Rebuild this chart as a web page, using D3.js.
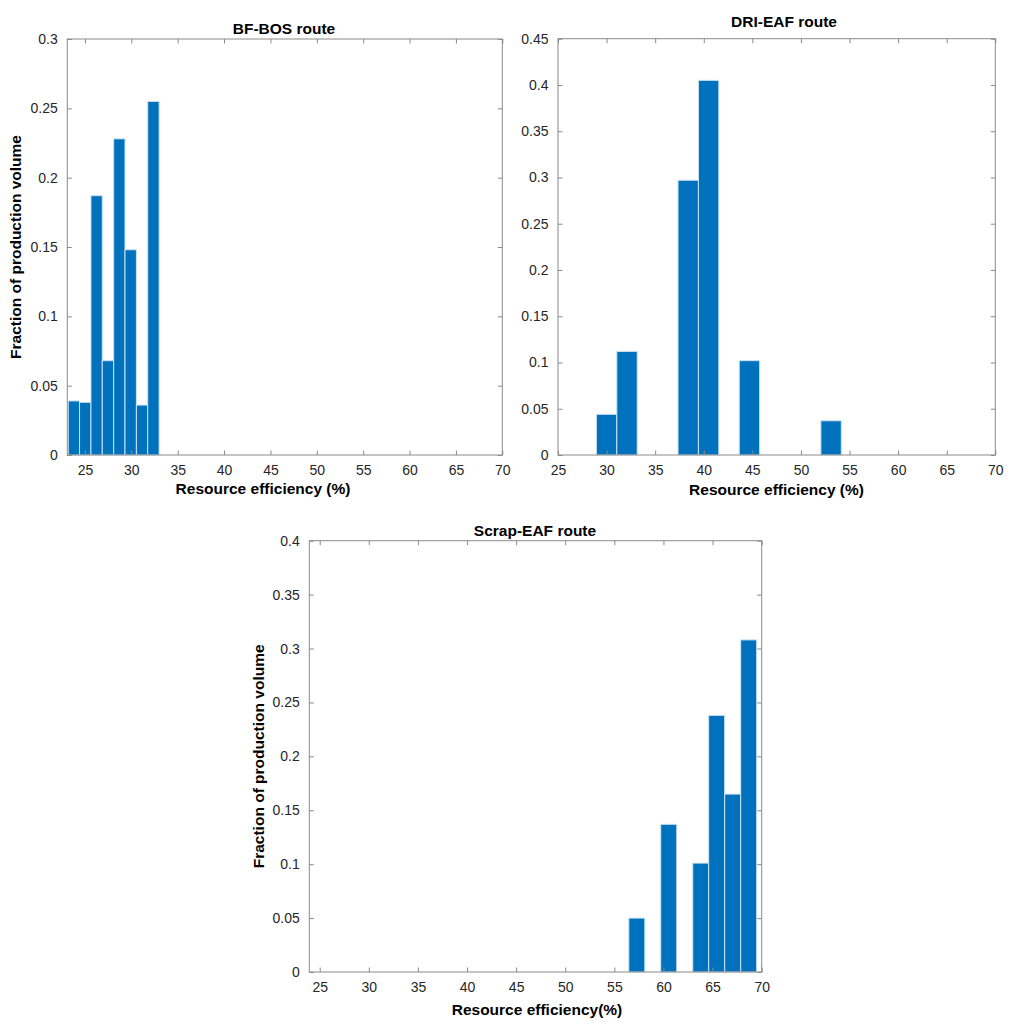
<!DOCTYPE html>
<html>
<head>
  <meta charset="UTF-8">
  <title>Resource efficiency histograms</title>
  <style>
    body { margin: 0; background: #fff; }
    svg { display: block; font-family: "Liberation Sans", Arial, Helvetica, sans-serif; }
    .tick text { fill: #262626; font-size: 14px; }
    .title, .label { font-weight: bold; fill: #000; font-size: 15.5px; }
  </style>
  <script src="https://d3js.org/d3.v7.min.js"></script>
</head>
<body>
  <svg id="chart" width="1024" height="1024"></svg>
  <script>
    // histogram bin edges and fractions
    const bfEdges = [23.2, 24.42, 25.65, 26.87, 28.1, 29.32, 30.55, 31.77, 33.0];
    const bfValues = [0.039, 0.038, 0.187, 0.068, 0.228, 0.148, 0.036, 0.255];

    const driEdges = [28.95, 31.05, 33.15, 35.25, 37.35, 39.45, 41.55, 43.65, 45.75, 47.85, 49.95, 52.05, 54.15];
    const driValues = [0.044, 0.112, 0, 0, 0.297, 0.405, 0, 0.102, 0, 0, 0, 0.037];

    const scrapEdges = [56.47, 58.1, 59.72, 61.35, 62.98, 64.6, 66.23, 67.86, 69.49];
    const scrapValues = [0.050, 0, 0.137, 0, 0.101, 0.238, 0.165, 0.308];

    const xTicks = [25, 30, 35, 40, 45, 50, 55, 60, 65, 70];
    const bfYTicks = [0, 0.05, 0.1, 0.15, 0.2, 0.25, 0.3];
    const driYTicks = [0, 0.05, 0.1, 0.15, 0.2, 0.25, 0.3, 0.35, 0.4, 0.45];
    const scrapYTicks = [0, 0.05, 0.1, 0.15, 0.2, 0.25, 0.3, 0.35, 0.4];

    const svg = d3.select('#chart');
    const fmt = d => String(+d.toFixed(2));
    const tickLen = 4.5;

    function drawPanel(p) {
      const w = p.x1 - p.x0, h = p.y1 - p.y0;
      const g = svg.append('g').attr('transform', `translate(${p.x0},${p.y0})`);
      const x = d3.scaleLinear().domain(p.xDomain).range([0, w]);
      const y = d3.scaleLinear().domain([0, p.yTicks[p.yTicks.length - 1]]).range([h, 0]);

      const bins = p.values.map((v, i) => ({x0: p.edges[i], x1: p.edges[i + 1], v}))
        .filter(b => b.v > 0);

      g.append('g').selectAll('rect')
        .data(bins)
        .join('rect')
        .attr('x', d => x(d.x0))
        .attr('y', d => y(d.v))
        .attr('width', d => x(d.x1) - x(d.x0))
        .attr('height', d => y(0) - y(d.v))
        .attr('fill', '#0072BD')
        .attr('stroke', '#cfe2f3')
        .attr('stroke-width', 1);

      const ax = [
        g.append('g').attr('transform', `translate(0,${h})`)
          .call(d3.axisBottom(x).tickValues(xTicks).tickSize(-tickLen).tickPadding(tickLen + 6).tickFormat(d3.format('d'))),
        g.append('g')
          .call(d3.axisTop(x).tickValues(xTicks).tickSize(-tickLen).tickFormat('')),
        g.append('g')
          .call(d3.axisLeft(y).tickValues(p.yTicks).tickSize(-tickLen).tickPadding(tickLen + 5).tickFormat(fmt)),
        g.append('g').attr('transform', `translate(${w},0)`)
          .call(d3.axisRight(y).tickValues(p.yTicks).tickSize(-tickLen).tickFormat(''))
      ];
      ax.forEach(a => {
        a.select('.domain').remove();
        a.selectAll('.tick line').attr('stroke', '#8a8a8a');
        a.attr('font-family', null).attr('font-size', null);
      });

      g.append('rect')
        .attr('width', w).attr('height', h)
        .attr('fill', 'none')
        .attr('stroke', '#8a8a8a')
        .attr('stroke-width', 1);

      svg.append('text').attr('class', 'title')
        .attr('x', p.titleX).attr('y', p.titleY)
        .attr('text-anchor', 'middle')
        .text(p.title);

      svg.append('text').attr('class', 'label')
        .attr('x', p.xLabelX).attr('y', p.xLabelY)
        .attr('text-anchor', 'middle')
        .text(p.xLabel);

      if (p.yLabel) {
        svg.append('text').attr('class', 'label')
          .attr('transform', `translate(${p.yLabelX},${(p.y0 + p.y1) / 2}) rotate(-90)`)
          .attr('text-anchor', 'middle')
          .text(p.yLabel);
      }
    }

    drawPanel({
      x0: 67.3, x1: 502.3, y0: 39, y1: 455, xDomain: [23.1, 70],
      edges: bfEdges, values: bfValues, yTicks: bfYTicks,
      title: 'BF-BOS route', titleX: 284, titleY: 34,
      xLabel: 'Resource efficiency (%)', xLabelX: 263, xLabelY: 494,
      yLabel: 'Fraction of production volume', yLabelX: 21
    });

    drawPanel({
      x0: 558, x1: 995.3, y0: 38.7, y1: 455, xDomain: [25, 70],
      edges: driEdges, values: driValues, yTicks: driYTicks,
      title: 'DRI-EAF route', titleX: 784, titleY: 27,
      xLabel: 'Resource efficiency (%)', xLabelX: 776.5, xLabelY: 495
    });

    drawPanel({
      x0: 309.3, x1: 761.7, y0: 540.7, y1: 972, xDomain: [23.94, 70],
      edges: scrapEdges, values: scrapValues, yTicks: scrapYTicks,
      title: 'Scrap-EAF route', titleX: 535, titleY: 536,
      xLabel: 'Resource efficiency(%)', xLabelX: 537, xLabelY: 1015,
      yLabel: 'Fraction of production volume', yLabelX: 264
    });
  </script>
</body>
</html>
